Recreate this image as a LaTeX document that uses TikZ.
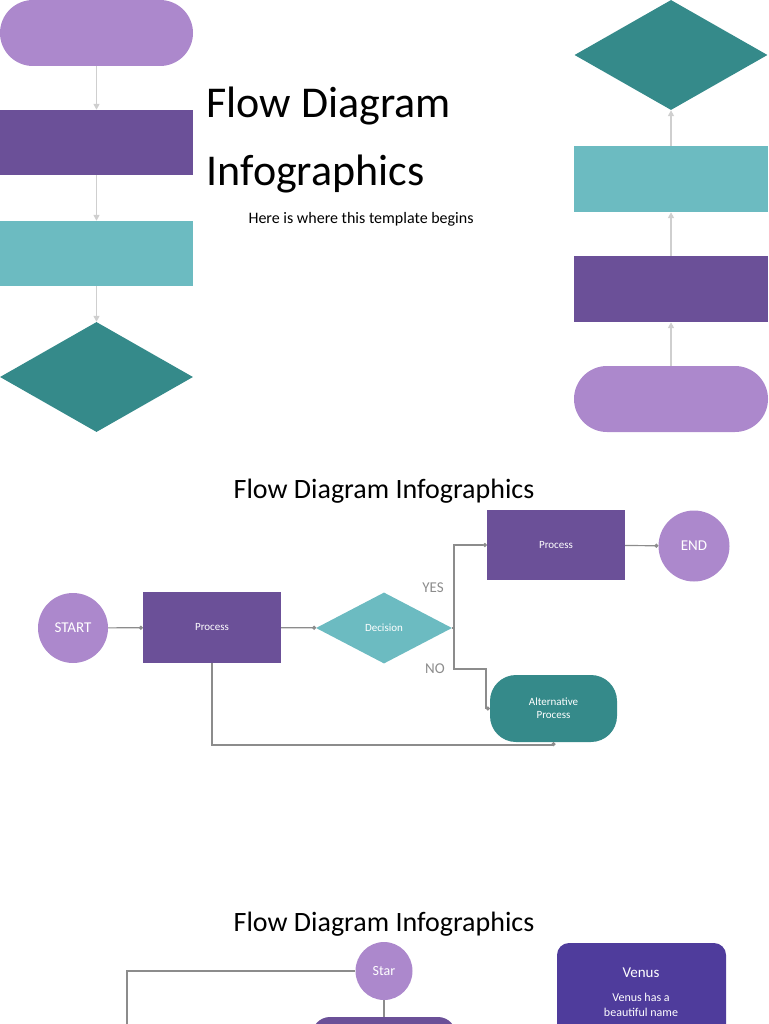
\documentclass[tikz,border=0pt]{standalone}
\usepackage{fontspec}
\setmainfont{Carlito}
\usetikzlibrary{shapes.geometric,arrows.meta}
\definecolor{lav}{HTML}{AC88CC}
\definecolor{pur}{HTML}{6B5098}
\definecolor{lteal}{HTML}{6CBBC1}
\definecolor{dteal}{HTML}{358A8A}
\definecolor{ven}{HTML}{4F3C9C}
\definecolor{ln}{HTML}{8C8C8C}
\definecolor{lln}{HTML}{CFCFCF}
\begin{document}
\begin{tikzpicture}[x=1pt,y=-1pt,
  box/.style={draw=none,minimum width=#1pt,inner sep=0pt,text=white,font=\fontsize{11}{13}\selectfont,align=center},
  pill/.style={rounded corners=33pt,minimum height=66pt},
  dia/.style={diamond,aspect=1.76,inner sep=0pt},
  up/.style={lln,line width=1.5pt,-{Triangle[width=6pt,length=6pt]}},
  con/.style={ln,line width=1.2pt},
  dot/.style={-{Circle[length=4pt]}}]
\useasboundingbox (0,0) rectangle (768,1024);
% top left column
\node[box=193,pill,fill=lav] (a1) at (96.5,33) {};
\node[box=193,minimum height=65pt,fill=pur] (a2) at (96.5,142.5) {};
\node[box=193,minimum height=65pt,fill=lteal] (a3) at (96.5,253.5) {};
\node[dia,fill=dteal,minimum width=193pt,minimum height=110pt] (a4) at (96.5,377) {};
\draw[up] (a1) -- (a2);
\draw[up] (a2) -- (a3);
\draw[up] (a3) -- (a4);
% top right column
\node[dia,fill=dteal,minimum width=193pt,minimum height=110pt] (b1) at (671,55) {};
\node[box=194,minimum height=66pt,fill=lteal] (b2) at (671,179) {};
\node[box=194,minimum height=66pt,fill=pur] (b3) at (671,289) {};
\node[box=194,pill,fill=lav] (b4) at (671,399) {};
\draw[up] (b4) -- (b3);
\draw[up] (b3) -- (b2);
\draw[up] (b2) -- (b1);
% title
\node[anchor=west,font=\fontsize{44}{50}\selectfont,align=left] (t1) at (203,106) {Flow Diagram};
\node[anchor=west,font=\fontsize{44}{50}\selectfont,align=left] (t2) at (203,174) {Infographics};
\node[anchor=west,font=\fontsize{16}{18}\selectfont] (t3) at (245,219) {Here is where this template begins};
% middle flow
\node[font=\fontsize{28}{32}\selectfont] (t4) at (384,491) {Flow Diagram Infographics};
\node[circle,fill=lav,minimum size=70pt,inner sep=0pt,text=white,font=\fontsize{15}{17}\selectfont] (st) at (73,628) {START};
\node[box=138,minimum height=71pt,fill=pur] (p1) at (212,627.5) {Process};
\node[dia,fill=lteal,minimum width=136pt,minimum height=71pt,text=white,font=\fontsize{11}{13}\selectfont] (dc) at (384,628) {Decision};
\node[box=138,minimum height=70pt,fill=pur] (p2) at (556,545) {Process};
\node[circle,fill=lav,minimum size=71pt,inner sep=0pt,text=white,font=\fontsize{15}{17}\selectfont] (en) at (694,546) {END};
\node[box=127,minimum height=67pt,rounded corners=26pt,fill=dteal] (ap) at (553.5,708.5) {Alternative\\Process};
\draw[con,dot] (st) -- (p1);
\draw[con,dot] (p1) -- (dc);
\draw[con,dot] (dc.east) -- (454,628) |- (p2.west);
\draw[con,dot] (454,628) |- (486,669) |- (ap.west);
\draw[con,dot] (p1.south) |- (ap.south |- 0,745) -- (ap.south);
\draw[con,dot] (p2) -- (en);
\node[ln,font=\fontsize{15}{17}\selectfont] (yes) at (433,588) {YES};
\node[ln,font=\fontsize{15}{17}\selectfont] (no) at (435,669) {NO};
% bottom
\node[font=\fontsize{28}{32}\selectfont] (t5) at (384,924) {Flow Diagram Infographics};
\node[ellipse,fill=lav,minimum width=57pt,minimum height=58pt,inner sep=0pt,text=white,font=\fontsize{14}{16}\selectfont] (sr) at (384,971) {Star};
\fill[pur,rounded corners=18pt] (312,1017) rectangle (456,1060);
\coordinate (pb) at (384,1017);
\coordinate (lb) at (127,1024);
\draw[con] (sr.west) -| (lb);
\draw[con] (sr.south) -- (pb);
\fill[ven,rounded corners=12pt] (557,943) rectangle (726,1060);
\node[text=white,font=\fontsize{15}{17}\selectfont] (vt) at (641,973) {Venus};
\node[text=white,font=\fontsize{12}{15}\selectfont,align=center] (vb) at (641,1005) {Venus has a\\beautiful name};
\end{tikzpicture}
\end{document}
